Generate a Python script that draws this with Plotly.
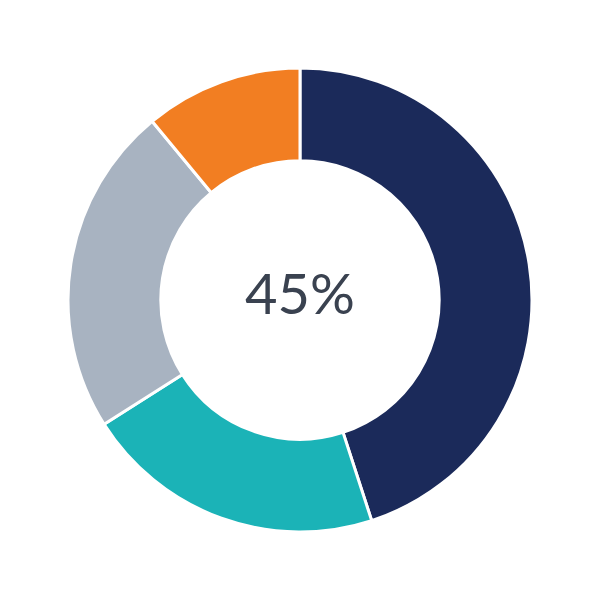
import plotly.graph_objects as go

# Slice values (percent), clockwise from 12 o'clock
labels = ["Navy", "Teal", "Gray", "Orange"]
values = [45, 21, 23, 11]
colors = ["#1b2a5a", "#1bb3b7", "#a8b3c1", "#f27e22"]
center_text = "45%"

fig = go.Figure(
    go.Pie(
        labels=labels,
        values=values,
        hole=0.6,
        sort=False,
        direction="clockwise",
        rotation=0,
        textinfo="none",
        marker=dict(colors=colors, line=dict(color="white", width=3)),
        domain=dict(x=[0.1, 0.8733], y=[0.1267, 0.9]),
        showlegend=False,
    )
)

fig.add_annotation(
    text=center_text,
    x=0.4867, y=0.5133, xref="paper", yref="paper",
    yshift=8,
    showarrow=False,
    font=dict(family="Lato", size=56, color="#3a4250"),
)

fig.update_layout(
    width=600,
    height=600,
    margin=dict(l=0, r=0, t=0, b=0),
    paper_bgcolor="white",
    plot_bgcolor="white",
)

fig.write_html("out.html")
